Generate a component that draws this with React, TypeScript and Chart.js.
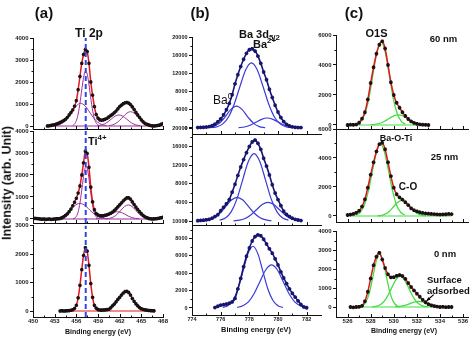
import React, { useEffect, useRef } from "react";
import { Chart, registerables } from "chart.js";

Chart.register(...registerables);

type Pair = [number, number];

// ---------------- (a) Ti 2p ----------------
const ENERGY_A: number[] = [450, 450.25, 450.5, 450.75, 451, 451.25, 451.5, 451.75, 452, 452.25, 452.5, 452.75, 453, 453.25, 453.5, 453.75, 454, 454.25, 454.5, 454.75, 455, 455.25, 455.5, 455.75, 456, 456.25, 456.5, 456.75, 457, 457.25, 457.5, 457.75, 458, 458.25, 458.5, 458.75, 459, 459.25, 459.5, 459.75, 460, 460.25, 460.5, 460.75, 461, 461.25, 461.5, 461.75, 462, 462.25, 462.5, 462.75, 463, 463.25, 463.5, 463.75, 464, 464.25, 464.5, 464.75, 465, 465.25, 465.5, 465.75, 466, 466.25, 466.5, 466.75, 467, 467.25, 467.5, 467.75, 468];
const TI_60NM: (number | null)[] = [null, null, null, null, null, null, null, null, 0, 10, 30, 45, 60, 90, 120, 160, 200, 245, 300, 390, 500, 610, 730, 900, 1150, 1650, 2250, 2850, 3250, 3480, 3380, 2850, 2000, 1400, 880, 520, 360, 280, 265, 280, 310, 350, 410, 470, 530, 600, 680, 780, 880, 950, 1010, 1055, 1070, 1040, 970, 870, 750, 620, 500, 390, 280, 190, 120, 80, 50, 20, 5, 0, 10, 25, 40, 80, 110];
const TI_25NM: (number | null)[] = [null, 30, 20, 10, 0, -10, 0, -15, -10, 0, -20, -10, 0, 5, 10, 20, 50, 100, 160, 230, 330, 450, 600, 760, 940, 1180, 1500, 2000, 2550, 3080, 2980, 2350, 1450, 780, 420, 250, 180, 150, 140, 150, 170, 190, 220, 260, 310, 380, 460, 550, 640, 730, 820, 900, 960, 960, 900, 780, 660, 540, 430, 330, 240, 160, 100, 60, 30, 10, 0, 5, 10, 20, 40, 60, 80];
const TI_0NM: (number | null)[] = [null, null, null, null, null, null, null, null, null, null, null, null, null, null, null, 0, 10, 0, 5, 10, 15, 25, 45, 90, 200, 460, 900, 1450, 1950, 2220, 2100, 1600, 960, 480, 200, 100, 50, 35, 30, 35, 40, 50, 60, 110, 180, 240, 320, 410, 480, 560, 630, 680, 690, 650, 560, 440, 340, 250, 180, 120, 80, 55, 40, 30, 20, 15, 10, 5, null, null, null, null, null];

const TI60_NARROW: Pair[] = [[455.5, 28], [455.8, 110], [456.1, 338], [456.4, 812], [456.7, 1516], [456.9, 2000], [457.1, 2365], [457.3, 2500], [457.5, 2365], [457.7, 2000], [457.9, 1516], [458.2, 812], [458.5, 338], [458.8, 110], [459.1, 28]];
const TI60_BROAD: Pair[] = [[453.0, 16], [453.5, 47], [454.0, 118], [454.5, 251], [455.0, 453], [455.5, 699], [456.0, 918], [456.6, 1030], [457.2, 918], [457.7, 699], [458.2, 453], [458.7, 251], [459.2, 118], [459.7, 47], [460.2, 16]];
const TI60_HALF_A: Pair[] = [[460.5, 16], [461.0, 49], [461.5, 125], [462.0, 257], [462.5, 430], [463.0, 586], [463.5, 650], [464.0, 586], [464.5, 430], [465.0, 257], [465.5, 125], [466.0, 49], [466.5, 16]];
const TI60_HALF_B: Pair[] = [[458.9, 12], [459.4, 38], [459.9, 96], [460.4, 198], [460.9, 331], [461.4, 451], [461.9, 500], [462.4, 451], [462.9, 331], [463.4, 198], [463.9, 96], [464.4, 38], [464.9, 12]];

const TI25_NARROW: Pair[] = [[455.55, 11], [455.85, 58], [456.15, 220], [456.45, 624], [456.75, 1312], [456.95, 1828], [457.15, 2228], [457.35, 2380], [457.55, 2228], [457.75, 1828], [457.95, 1312], [458.25, 624], [458.55, 220], [458.85, 58], [459.15, 11]];
const TI25_BROAD: Pair[] = [[452.6, 8], [453.1, 23], [453.6, 59], [454.1, 128], [454.6, 243], [455.1, 398], [455.6, 560], [456.1, 677], [456.5, 710], [456.9, 677], [457.4, 560], [457.9, 398], [458.4, 243], [458.9, 128], [459.4, 59], [459.9, 23], [460.4, 8]];
const TI25_HALF_A: Pair[] = [[460.2, 11], [460.7, 38], [461.2, 104], [461.7, 230], [462.2, 407], [462.7, 572], [463.2, 640], [463.7, 572], [464.2, 407], [464.7, 230], [465.2, 104], [465.7, 38], [466.2, 11]];
const TI25_HALF_B: Pair[] = [[458.7, 8], [459.2, 25], [459.7, 63], [460.2, 130], [460.7, 218], [461.2, 298], [461.7, 330], [462.2, 298], [462.7, 218], [463.2, 130], [463.7, 63], [464.2, 25], [464.7, 8]];

const TI4_POSITION = 457.3;

// ---------------- (b) Ba 3d5/2 ----------------
const ENERGY_B: number[] = [774.4, 774.6, 774.8, 775, 775.2, 775.4, 775.6, 775.8, 776, 776.2, 776.4, 776.6, 776.8, 777, 777.2, 777.4, 777.6, 777.8, 778, 778.2, 778.4, 778.6, 778.8, 779, 779.2, 779.4, 779.6, 779.8, 780, 780.2, 780.4, 780.6, 780.8, 781, 781.2, 781.4, 781.6, 781.8, 782];
const BA_60NM: (number | null)[] = [100, 120, 150, 200, 300, 500, 850, 1350, 2000, 2900, 4000, 5400, 7300, 9700, 11700, 13500, 15100, 16400, 17200, 17400, 16900, 15800, 14200, 12300, 10600, 8500, 6700, 5000, 3500, 2300, 1400, 800, 450, 250, 150, 100, 80, null, null];
const BA_25NM: (number | null)[] = [70, 120, 170, 250, 360, 600, 950, 1350, 2200, 2950, 3700, 4600, 6200, 7900, 9800, 11600, 13200, 14700, 16000, 17000, 17400, 16700, 15400, 13500, 11800, 9900, 7800, 6000, 4600, 3300, 2100, 1400, 950, 600, 350, 210, 100, null, null];
const BA_0NM: (number | null)[] = [null, null, null, null, null, null, 50, 200, 330, 380, 450, 550, 700, 1100, 2200, 3400, 4750, 5950, 6900, 7700, 8200, 8400, 8300, 7900, 7350, 6800, 6300, 5650, 4950, 4150, 3450, 2800, 2200, 1690, 1250, 820, 400, 120, 30];

const BA60_BA2: Pair[] = [[775.35, 63], [775.75, 266], [776.15, 898], [776.55, 2430], [776.95, 5280], [777.35, 9180], [777.75, 12800], [778.15, 14300], [778.55, 12800], [778.95, 9180], [779.35, 5280], [779.75, 2430], [780.15, 898], [780.55, 266], [780.95, 63]];
const BA60_BA0: Pair[] = [[775.1, 64], [775.5, 301], [775.9, 1013], [776.3, 2400], [776.7, 4040], [777.1, 4800], [777.5, 4040], [777.9, 2400], [778.3, 1013], [778.7, 301], [779.1, 64]];
const BA60_HIGH: Pair[] = [[777.25, 63], [777.65, 227], [778.05, 612], [778.45, 1245], [778.85, 1907], [779.25, 2200], [779.65, 1907], [780.05, 1245], [780.45, 612], [780.85, 227], [781.25, 63]];

const BA25_BA2: Pair[] = [[775.93, 160], [776.33, 640], [776.73, 1960], [777.13, 4710], [777.53, 8800], [777.93, 12790], [778.33, 14500], [778.73, 12790], [779.13, 8800], [779.53, 4710], [779.93, 1960], [780.33, 640], [780.73, 160]];
const BA25_BA0: Pair[] = [[774.75, 56], [775.15, 225], [775.55, 690], [775.95, 1657], [776.35, 3096], [776.75, 4500], [777.15, 5100], [777.55, 4500], [777.95, 3096], [778.35, 1657], [778.75, 690], [779.15, 225], [779.55, 56]];
const BA25_HIGH: Pair[] = [[776.9, 44], [777.3, 176], [777.7, 541], [778.1, 1300], [778.5, 2428], [778.9, 3528], [779.3, 4000], [779.7, 3528], [780.1, 2428], [780.5, 1300], [780.9, 541], [781.3, 176], [781.7, 44]];

const BA0_LOW: Pair[] = [[776.15, 60], [776.5, 259], [776.85, 855], [777.2, 2160], [777.55, 4180], [777.9, 6220], [778.25, 7100], [778.6, 6220], [778.95, 4180], [779.3, 2160], [779.65, 855], [780.0, 259], [780.35, 60]];
const BA0_HIGH: Pair[] = [[777.15, 68], [777.55, 252], [777.95, 738], [778.35, 1698], [778.75, 3076], [779.15, 4395], [779.55, 4950], [779.95, 4395], [780.35, 3076], [780.75, 1698], [781.15, 738], [781.55, 252], [781.95, 68]];

// ---------------- (c) O 1s ----------------
const ENERGY_C: number[] = [526, 526.25, 526.5, 526.75, 527, 527.25, 527.5, 527.75, 528, 528.25, 528.5, 528.75, 529, 529.25, 529.5, 529.75, 530, 530.25, 530.5, 530.75, 531, 531.25, 531.5, 531.75, 532, 532.25, 532.5, 532.75, 533, 533.25, 533.5, 533.75, 534, 534.25, 534.5, 534.75, 535];
const O_60NM: (number | null)[] = [0, 20, 10, 30, 150, 420, 850, 1700, 2800, 3850, 4750, 5350, 5580, 5100, 4000, 2850, 2000, 1480, 1150, 850, 600, 400, 240, 140, 80, 40, 20, 10, 0, null, null, null, null, null, null, null, null];
const O_25NM: (number | null)[] = [70, 100, 140, 220, 360, 650, 1150, 1950, 2850, 3700, 4450, 4950, 5050, 4600, 3700, 2750, 1950, 1500, 1280, 1130, 950, 750, 530, 400, 320, 260, 210, 180, 160, 140, 130, 110, 100, 110, 120, 140, 130];
const O_0NM: (number | null)[] = [null, 0, -20, 0, 10, 60, 300, 800, 1500, 2200, 2650, 2850, 2500, 2050, 1720, 1560, 1570, 1640, 1680, 1630, 1480, 1260, 1050, 870, 700, 540, 380, 250, 150, 90, 50, 20, 0, 10, -10, 0, 0];

const O60_LATTICE: Pair[] = [[526.8, 61], [527.15, 244], [527.5, 750], [527.85, 1800], [528.2, 3370], [528.55, 4900], [528.9, 5550], [529.25, 4900], [529.6, 3370], [529.95, 1800], [530.3, 750], [530.65, 244], [531.0, 61]];
const O60_SECOND: Pair[] = [[528.0, 13], [528.4, 43], [528.8, 116], [529.2, 251], [529.6, 437], [530.0, 609], [530.4, 680], [530.8, 609], [531.2, 437], [531.6, 251], [532.0, 116], [532.4, 43], [532.8, 13]];
const O25_BAOTI: Pair[] = [[526.75, 70], [527.1, 258], [527.45, 748], [527.8, 1710], [528.15, 3087], [528.5, 4400], [528.85, 4950], [529.2, 4400], [529.55, 3087], [529.9, 1710], [530.25, 748], [530.6, 258], [530.95, 70]];
const O25_CO: Pair[] = [[528.6, 12], [528.95, 48], [529.3, 146], [529.65, 351], [530.0, 656], [530.35, 953], [530.7, 1080], [531.05, 953], [531.4, 656], [531.75, 351], [532.1, 146], [532.45, 48], [532.8, 12]];
const O0_LATTICE: Pair[] = [[526.98, 13], [527.28, 68], [527.58, 259], [527.88, 734], [528.18, 1544], [528.48, 2413], [528.78, 2800], [529.08, 2413], [529.38, 1544], [529.68, 734], [529.98, 259], [530.28, 68], [530.58, 13]];
const O0_SECOND: Pair[] = [[528.15, 10], [528.55, 46], [528.95, 167], [529.35, 450], [529.75, 917], [530.15, 1405], [530.55, 1620], [530.95, 1405], [531.35, 917], [531.75, 450], [532.15, 167], [532.55, 46], [532.95, 10]];
const O0_ADSORBED: Pair[] = [[530.15, 9], [530.55, 31], [530.95, 83], [531.35, 170], [531.75, 260], [532.15, 300], [532.55, 260], [532.95, 170], [533.35, 83], [533.75, 31], [534.15, 9]];
const ARROW_FROM: Pair = [533.45, 650];
const ARROW_TO: Pair = [532.85, 330];

// ---------------- ticks ----------------
const A_XTICKS = [450, 453, 456, 459, 462, 465, 468];
const B_XTICKS = [774, 776, 778, 780, 782];
const C_XTICKS = [526, 528, 530, 532, 534, 536];
const A_YTICKS_4K = [0, 1000, 2000, 3000, 4000];
const A_YTICKS_3K = [0, 1000, 2000, 3000];
const B_YTICKS_20K = [0, 4000, 8000, 12000, 16000, 20000];
const B_YTICKS_10K = [0, 2000, 4000, 6000, 8000, 10000];
const C_YTICKS_6K = [0, 2000, 4000, 6000];
const C_YTICKS_4K = [0, 1000, 2000, 3000, 4000];

const W = 474;
const H = 338;
const Y_BOX = 30; // width reserved for y tick labels
const X_BOX = 12; // height reserved for x tick labels
const FONT = '"Liberation Sans", Arial, Helvetica, sans-serif';

const RED = "#e3161d";
const PURPLE = "#9c2e9c";
const BLUE = "#3a3ad8";
const NAVY = "#16166e";
const GREEN = "#45dd45";
const DARK = "#1a1212";

interface Panel {
  rect: [number, number, number, number];
  x: [number, number];
  y: [number, number];
  xTicks: number[];
  yTicks: number[];
  showX: boolean;
  tickFont: number;
  energy: number[];
  values: (number | null)[];
  markerColor: string;
  markerRadius: number;
  fitColor: string;
  fitWidth: number;
  parts: Pair[][];
  partColor: string;
  partWidth: number;
  baseline?: string;
  refLine?: number;
  arrow?: { from: Pair; to: Pair };
}

const colA = { x: [450, 468] as [number, number], xTicks: A_XTICKS, tickFont: 6, energy: ENERGY_A, markerColor: DARK, markerRadius: 1.8, fitColor: RED, fitWidth: 1.5, partColor: PURPLE, partWidth: 1, refLine: TI4_POSITION };
const colB = { x: [774, 783] as [number, number], xTicks: B_XTICKS, tickFont: 5.5, energy: ENERGY_B, markerColor: NAVY, markerRadius: 1.9, fitColor: NAVY, fitWidth: 1.6, partColor: BLUE, partWidth: 1.2 };
const colC = { x: [525, 536.5] as [number, number], xTicks: C_XTICKS, tickFont: 6, energy: ENERGY_C, markerColor: DARK, markerRadius: 1.9, fitColor: RED, fitWidth: 1.5, partColor: GREEN, partWidth: 1.3, baseline: GREEN };

const PANELS: Panel[] = [
  { ...colA, rect: [33, 38, 163, 129], y: [-136, 4000], yTicks: A_YTICKS_4K, showX: false, values: TI_60NM, parts: [TI60_BROAD, TI60_NARROW, TI60_HALF_B, TI60_HALF_A], baseline: PURPLE },
  { ...colA, rect: [33, 131, 163, 223], y: [-182, 4000], yTicks: A_YTICKS_4K, showX: false, values: TI_25NM, parts: [TI25_BROAD, TI25_NARROW, TI25_HALF_B, TI25_HALF_A], baseline: PURPLE },
  { ...colA, rect: [33, 225.5, 163, 317], y: [-210, 3000], yTicks: A_YTICKS_3K, showX: true, values: TI_0NM, parts: [], baseline: RED },
  { ...colB, rect: [192, 37, 321, 134], y: [-1319, 20000], yTicks: B_YTICKS_20K, showX: false, values: BA_60NM, parts: [BA60_BA0, BA60_BA2, BA60_HIGH] },
  { ...colB, rect: [192, 128, 321, 225], y: [-860, 20000], yTicks: B_YTICKS_20K, showX: false, values: BA_25NM, parts: [BA25_BA0, BA25_BA2, BA25_HIGH] },
  { ...colB, rect: [192, 221, 321, 315], y: [-805, 10000], yTicks: B_YTICKS_10K, showX: true, values: BA_0NM, parts: [BA0_LOW, BA0_HIGH] },
  { ...colC, rect: [336, 35, 472, 129], y: [-267, 6000], yTicks: C_YTICKS_6K, showX: false, values: O_60NM, parts: [O60_LATTICE, O60_SECOND] },
  { ...colC, rect: [336, 129, 472, 222], y: [-414, 6000], yTicks: C_YTICKS_6K, showX: false, values: O_25NM, parts: [O25_BAOTI, O25_CO] },
  { ...colC, rect: [336, 231, 472, 317], y: [-526, 4000], yTicks: C_YTICKS_4K, showX: true, values: O_0NM, parts: [O0_LATTICE, O0_SECOND, O0_ADSORBED], arrow: { from: ARROW_FROM, to: ARROW_TO } },
];

const tickMarks = {
  id: "tickMarks",
  afterDraw(chart: any) {
    const { ctx, chartArea } = chart;
    const xs = chart.scales.x;
    const ys = chart.scales.y;
    ctx.save();
    ctx.strokeStyle = "#111";
    ctx.lineWidth = 1;
    ctx.beginPath();
    const xv = xs.ticks.map((t: any) => t.value);
    xv.forEach((v: number, i: number) => {
      const px = Math.round(xs.getPixelForValue(v)) + 0.5;
      ctx.moveTo(px, chartArea.bottom);
      ctx.lineTo(px, chartArea.bottom - 3);
      if (i < xv.length - 1) {
        const m = Math.round(xs.getPixelForValue((v + xv[i + 1]) / 2)) + 0.5;
        ctx.moveTo(m, chartArea.bottom);
        ctx.lineTo(m, chartArea.bottom - 1.5);
      }
    });
    const yv = ys.ticks.map((t: any) => t.value);
    yv.forEach((v: number, i: number) => {
      if (i < yv.length - 1) {
        const py = Math.round(ys.getPixelForValue((v + yv[i + 1]) / 2)) + 0.5;
        ctx.moveTo(chartArea.left, py);
        ctx.lineTo(chartArea.left - 1.5, py);
      }
    });
    ctx.stroke();
    ctx.restore();
  },
};

function arrowPlugin(arrow?: { from: Pair; to: Pair }) {
  return {
    id: "arrow",
    afterDatasetsDraw(chart: any) {
      if (!arrow) return;
      const { ctx } = chart;
      const xs = chart.scales.x;
      const ys = chart.scales.y;
      const x1 = xs.getPixelForValue(arrow.from[0]);
      const y1 = ys.getPixelForValue(arrow.from[1]);
      const x2 = xs.getPixelForValue(arrow.to[0]);
      const y2 = ys.getPixelForValue(arrow.to[1]);
      const ang = Math.atan2(y2 - y1, x2 - x1);
      ctx.save();
      ctx.strokeStyle = "#000";
      ctx.fillStyle = "#000";
      ctx.lineWidth = 1.2;
      ctx.beginPath();
      ctx.moveTo(x1, y1);
      ctx.lineTo(x2, y2);
      ctx.stroke();
      ctx.beginPath();
      ctx.moveTo(x2, y2);
      ctx.lineTo(x2 - 4 * Math.cos(ang - 0.45), y2 - 4 * Math.sin(ang - 0.45));
      ctx.lineTo(x2 - 4 * Math.cos(ang + 0.45), y2 - 4 * Math.sin(ang + 0.45));
      ctx.closePath();
      ctx.fill();
      ctx.restore();
    },
  };
}

function buildConfig(p: Panel): any {
  const pts = p.energy
    .map((x, i) => ({ x, y: p.values[i] }))
    .filter((d) => d.y !== null && d.y !== undefined) as { x: number; y: number }[];
  const datasets: any[] = [];
  if (p.refLine !== undefined) {
    datasets.push({
      data: [{ x: p.refLine, y: p.y[0] }, { x: p.refLine, y: p.y[1] }],
      showLine: true, borderColor: "#2f46e8", borderWidth: 2, borderDash: [5, 3], pointRadius: 0, tension: 0,
    });
  }
  datasets.push({
    data: pts, showLine: false, pointStyle: "star", pointRadius: p.markerRadius,
    pointBorderColor: p.markerColor, pointBackgroundColor: p.markerColor, pointBorderWidth: 1.1,
  });
  datasets.push({
    data: pts, showLine: true, borderColor: p.fitColor, borderWidth: p.fitWidth, pointRadius: 0,
    cubicInterpolationMode: "monotone", fill: false,
  });
  p.parts.forEach((part) => {
    datasets.push({
      data: part.map(([x, y]) => ({ x, y })), showLine: true, borderColor: p.partColor,
      borderWidth: p.partWidth, pointRadius: 0, cubicInterpolationMode: "monotone", fill: false,
    });
  });
  if (p.baseline) {
    datasets.push({
      data: [{ x: pts[0].x, y: 0 }, { x: pts[pts.length - 1].x, y: 0 }],
      showLine: true, borderColor: p.baseline, borderWidth: 1.2, pointRadius: 0, tension: 0,
    });
  }
  const [L, T, R, B] = p.rect;
  const tickFont = { family: FONT, size: p.tickFont, weight: "bold" as const };
  return {
    type: "scatter",
    data: { datasets },
    options: {
      animation: false,
      responsive: false,
      maintainAspectRatio: false,
      events: [],
      layout: { padding: { left: L - Y_BOX, top: T, right: W - R, bottom: H - B - X_BOX } },
      plugins: { legend: { display: false }, tooltip: { enabled: false } },
      scales: {
        x: {
          type: "linear", min: p.x[0], max: p.x[1],
          afterFit: (s: any) => { s.height = X_BOX; s.paddingLeft = 0; s.paddingRight = 0; },
          afterBuildTicks: (s: any) => { s.ticks = p.xTicks.map((v) => ({ value: v })); },
          ticks: { display: p.showX, font: tickFont, color: "#222", padding: 1, maxRotation: 0, minRotation: 0, autoSkip: false, callback: (v: any) => String(v) },
          grid: { display: false, drawTicks: false },
          border: { display: true, color: "#111", width: 1 },
        },
        y: {
          type: "linear", min: p.y[0], max: p.y[1],
          afterFit: (s: any) => { s.width = Y_BOX; s.paddingTop = 0; s.paddingBottom = 0; },
          afterBuildTicks: (s: any) => { s.ticks = p.yTicks.map((v) => ({ value: v })); },
          ticks: { font: tickFont, color: "#222", padding: 1.5, autoSkip: false, callback: (v: any) => String(v) },
          grid: { display: true, drawOnChartArea: false, drawTicks: true, tickLength: 3, color: "#111", lineWidth: 1 },
          border: { display: true, color: "#111", width: 1 },
        },
      },
    },
    plugins: [tickMarks, arrowPlugin(p.arrow)],
  };
}

const supStyle: React.CSSProperties = { fontSize: "0.72em", verticalAlign: "0.55em", lineHeight: 0 };
const subStyle: React.CSSProperties = { fontSize: "0.72em", verticalAlign: "-0.35em", lineHeight: 0 };

function Label(props: { x: number; y: number; size: number; bold?: boolean; left?: boolean; children: React.ReactNode }) {
  const { x, y, size, bold, left, children } = props;
  return (
    <div
      style={{
        position: "absolute", left: x, top: y,
        transform: left ? "translate(0,-50%)" : "translate(-50%,-50%)",
        fontSize: size, fontWeight: bold ? 700 : 400, whiteSpace: "nowrap",
        lineHeight: 1, color: "#111", fontFamily: FONT,
      }}
    >
      {children}
    </div>
  );
}

export default function App() {
  const refs = useRef<(HTMLCanvasElement | null)[]>([]);
  useEffect(() => {
    const charts = PANELS.map((p, i) => new Chart(refs.current[i] as HTMLCanvasElement, buildConfig(p)));
    return () => charts.forEach((c) => c.destroy());
  }, []);

  return (
    <div style={{ position: "absolute", left: 0, top: 0, width: W, height: H, overflow: "hidden", background: "#fff", fontFamily: FONT }}>
      {PANELS.map((_, i) => (
        <canvas
          key={i}
          ref={(el) => { refs.current[i] = el; }}
          width={W}
          height={H}
          style={{ position: "absolute", left: 0, top: 0 }}
        />
      ))}
      <Label x={44} y={11.5} size={15} bold>(a)</Label>
      <Label x={200} y={11.5} size={15} bold>(b)</Label>
      <Label x={354} y={11.5} size={15} bold>(c)</Label>
      <Label x={89} y={33} size={12} bold>Ti 2p</Label>
      <Label x={239} y={34} size={11} bold left>Ba 3d<span style={subStyle}>5/2</span></Label>
      <Label x={253} y={44} size={11} bold left>Ba<span style={supStyle}>2+</span></Label>
      <Label x={376.5} y={33} size={11} bold>O1S</Label>
      <Label x={443.5} y={39} size={9.5} bold>60 nm</Label>
      <Label x={88} y={141} size={11} bold left>Ti<span style={supStyle}>4+</span></Label>
      <Label x={213} y={100} size={12} left>Ba<span style={supStyle}>0</span></Label>
      <Label x={396} y={138} size={9} bold>Ba-O-Ti</Label>
      <Label x={444.5} y={157} size={9.5} bold>25 nm</Label>
      <Label x={408} y={187} size={10} bold>C-O</Label>
      <Label x={445} y={254} size={9.5} bold>0 nm</Label>
      <Label x={427} y={280} size={9.5} bold left>Surface</Label>
      <Label x={427} y={290.5} size={9.5} bold left>adsorbed</Label>
      <Label x={98} y={331} size={7} bold>Binding energy (eV)</Label>
      <Label x={256} y={330} size={7.4} bold>Binding energy (eV)</Label>
      <Label x={404} y={330} size={7} bold>Binding energy (eV)</Label>
      <div
        style={{
          position: "absolute", left: 6.5, top: 182.5,
          transform: "translate(-50%,-50%) rotate(-90deg)",
          fontSize: 12.5, fontWeight: 700, whiteSpace: "nowrap", lineHeight: 1,
          color: "#111", fontFamily: FONT,
        }}
      >
        Intensity (arb. Unit)
      </div>
    </div>
  );
}
